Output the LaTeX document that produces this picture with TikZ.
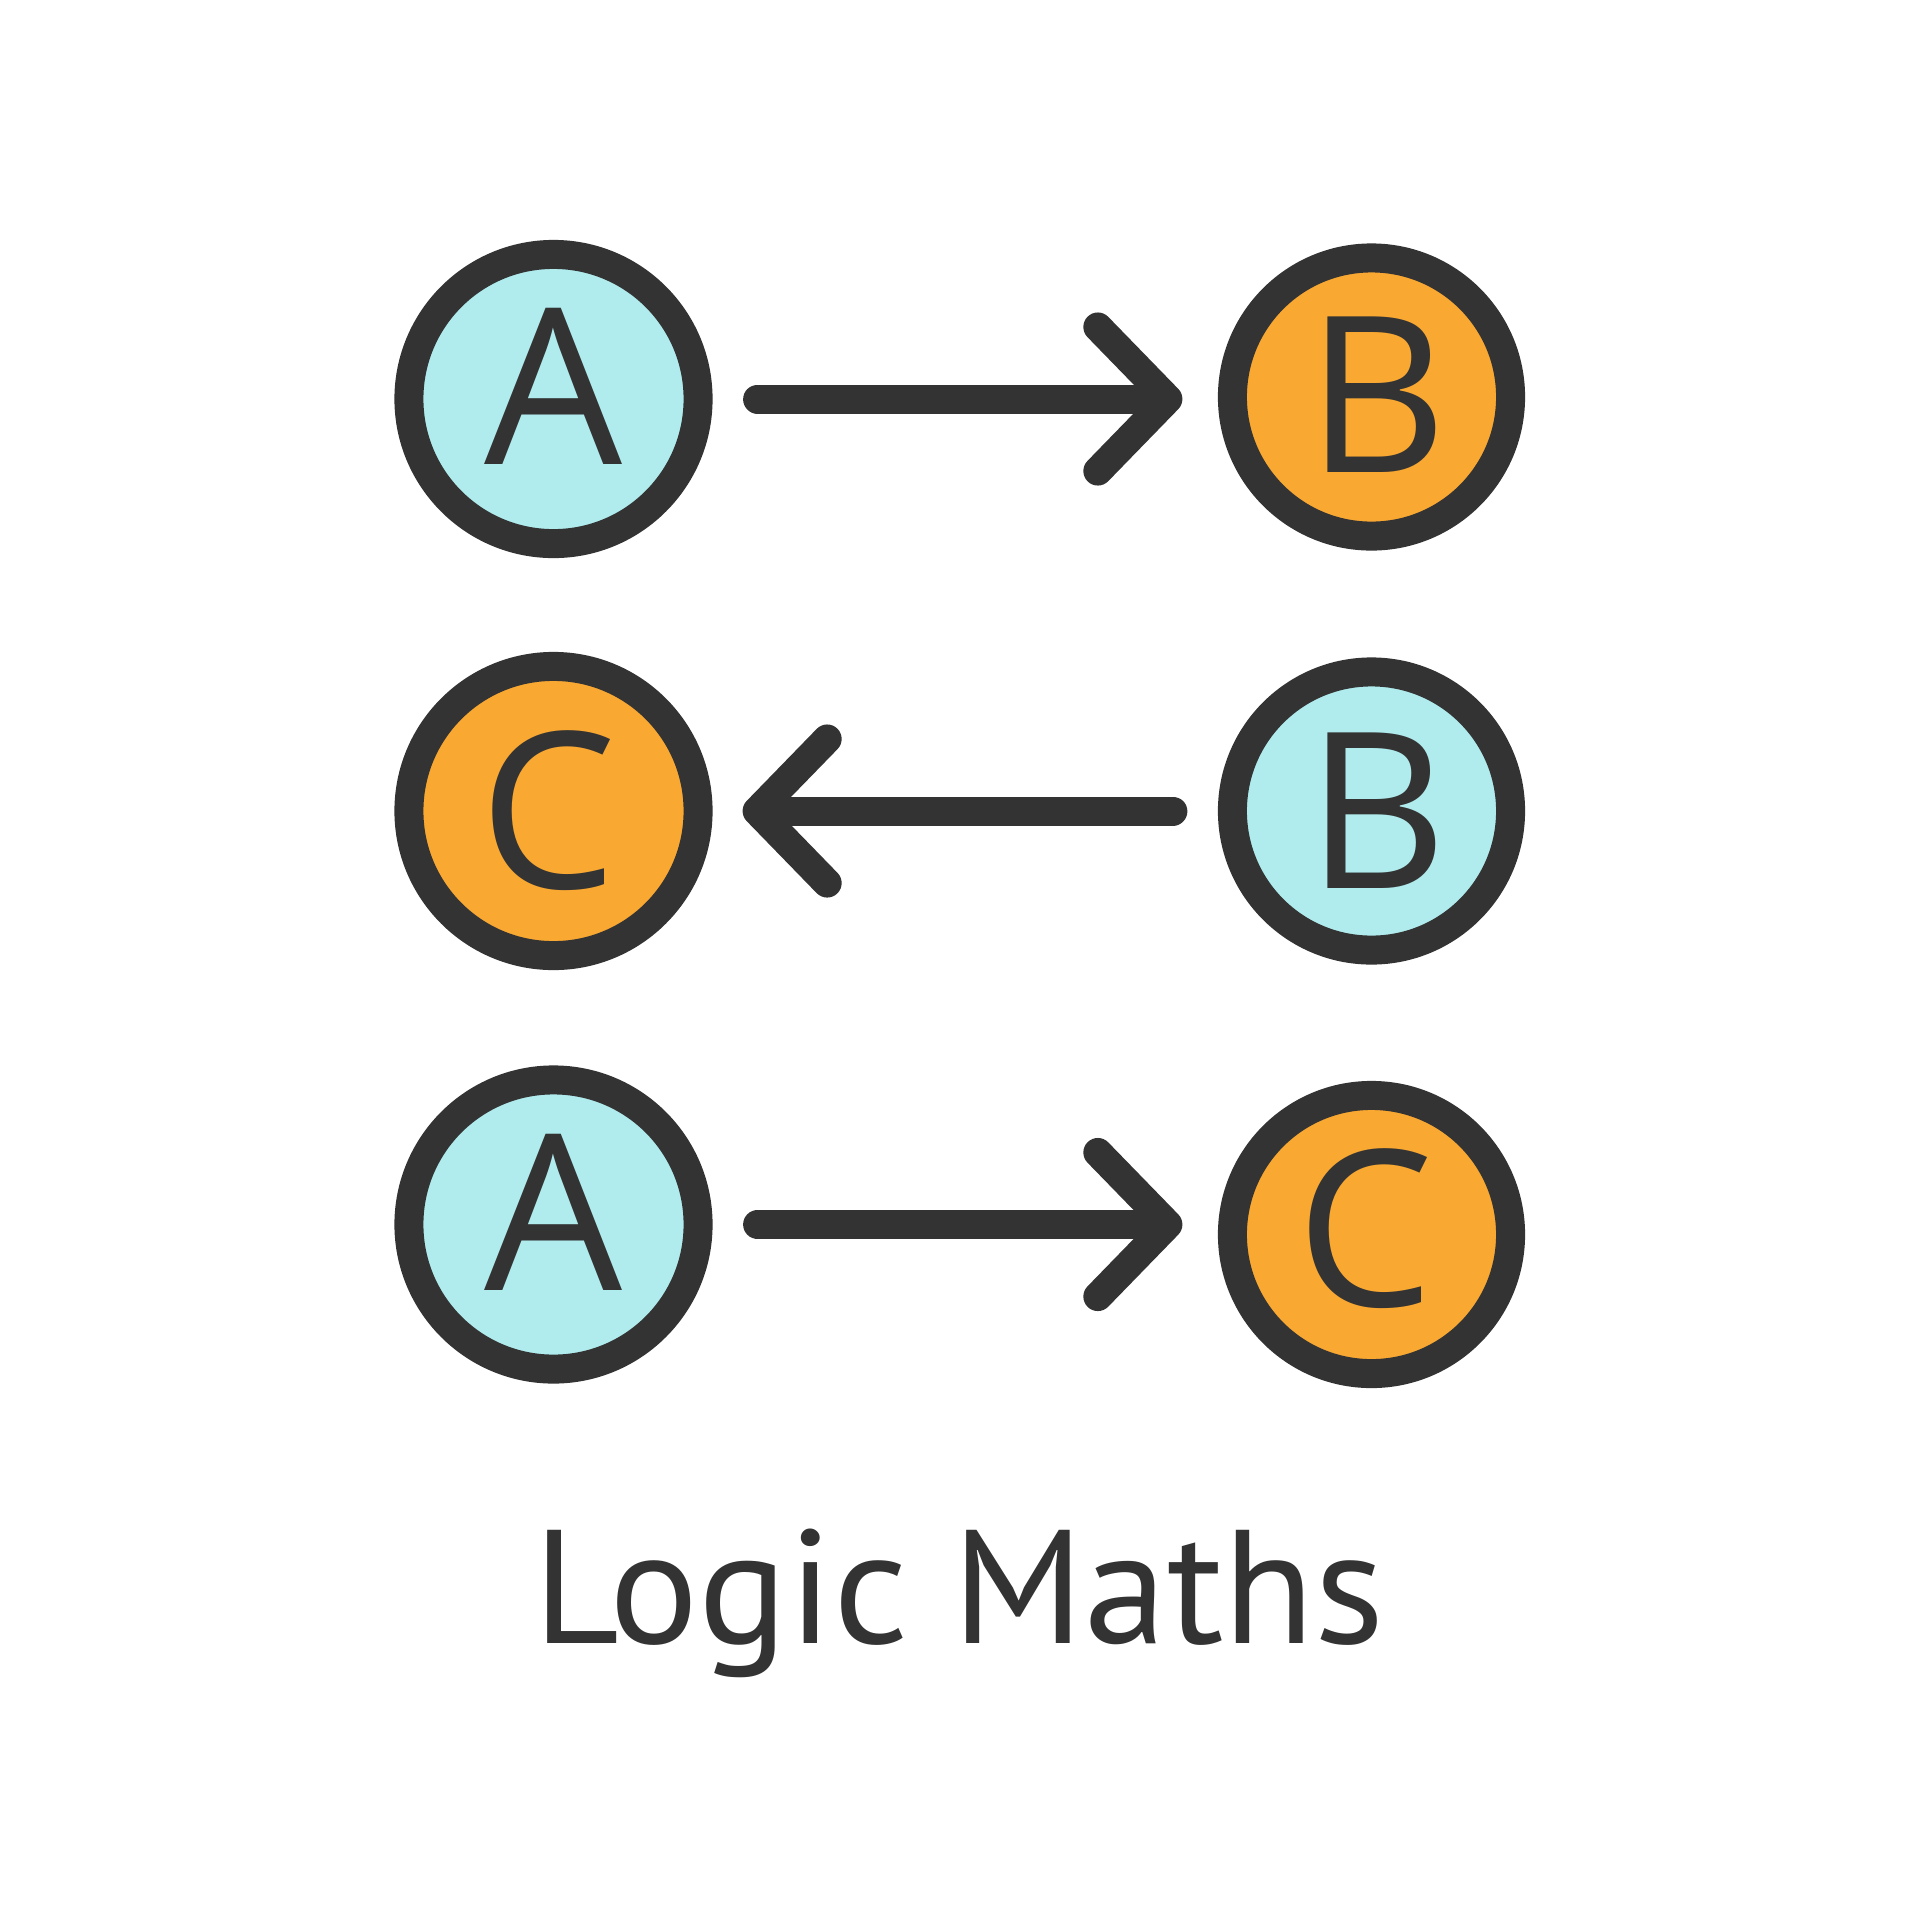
\documentclass[tikz,border=0pt]{standalone}
\usepackage{fontspec}
\setmainfont{Open Sans}
\newfontfamily\captionfont[FakeStretch=1.03]{PT Sans}
\usetikzlibrary{arrows.meta,calc}
\definecolor{ink}{HTML}{333333}
\definecolor{icecyan}{HTML}{B0ECEE}
\definecolor{amber}{HTML}{F9A832}

\begin{document}
\begin{tikzpicture}
[x=0.01cm,y=-0.01cm,
  ringDecorate/.style={shape=circle,draw=ink,line width=0.29cm,inner sep=0pt},
  leftRing/.style={ringDecorate,minimum size=2.89cm},
  rightRing/.style={ringDecorate,minimum size=2.78cm},
  glyphDecorate/.style={text=ink,inner sep=0pt,font=\fontsize{62}{62}\selectfont},
  flowDecorate/.style={draw=ink,line width=0.29cm,line cap=round,
    -{Straight Barb[length=0.7cm,width=1.44cm,line width=0.29cm,round]},
    shorten <=0.45cm,shorten >=1.89cm}]
\path[use as bounding box] (0,0) rectangle (1920,1920);
%% rings with their letters
\foreach \nodename/\x/\y/\ring/\tint/\glyph/\dx/\dy in {
  a1/553.5/399/leftRing/icecyan/A/0/-12.5,
  b1/1371.5/397/rightRing/amber/B/6/-2.5,
  c1/553.5/811/leftRing/amber/C/-5/0,
  b2/1371.5/811/rightRing/icecyan/B/6/0,
  a2/553.5/1224.5/leftRing/icecyan/A/0/-12.5,
  c2/1371.5/1234.5/rightRing/amber/C/-6/-5.5}
{
  \node (\nodename) at (\x,\y) [\ring,fill=\tint] {};
  \node (\nodename-t) at ($(\nodename)+(\dx,\dy)$) [glyphDecorate] {\glyph};
}
%% arrows
\path
\foreach \startnode/\endnode in {a1/b1, b2/c1, a2/c2}
{
  (\startnode) edge[flowDecorate] (\startnode -| \endnode)
};
%% caption
\node (title) at (959,1643) [anchor=base,text=ink,font=\captionfont\fontsize{46}{46}\selectfont] {Logic Maths};
\end{tikzpicture}
\end{document}
